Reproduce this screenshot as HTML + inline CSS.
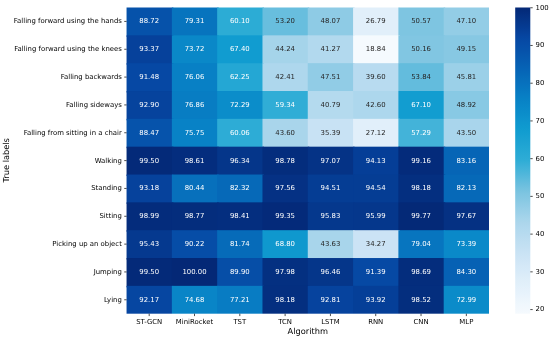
<!DOCTYPE html>
<html><head><meta charset="utf-8"><title>Heatmap</title>
<style>
html,body{margin:0;padding:0;background:#fff;}
body{width:550px;height:339px;overflow:hidden;}
svg{display:block;}
text{text-rendering:geometricPrecision;font-family:"DejaVu Sans","Liberation Sans",sans-serif;}
.t{font-size:6.9px;fill:#000;}
.a{font-size:6.9px;}
.l{font-size:8.25px;fill:#000;}
</style></head><body>
<svg width="550" height="339" viewBox="0 0 550 339">
<rect width="550" height="339" fill="#fff"/>

<rect x="126.55" y="7.50" width="46.81" height="29.34" fill="rgb(6,82,170)"/>
<rect x="171.86" y="7.50" width="46.81" height="29.34" fill="rgb(7,116,190)"/>
<rect x="217.16" y="7.50" width="46.81" height="29.34" fill="rgb(44,172,213)"/>
<rect x="262.47" y="7.50" width="46.81" height="29.34" fill="rgb(104,190,222)"/>
<rect x="307.77" y="7.50" width="46.81" height="29.34" fill="rgb(142,203,229)"/>
<rect x="353.08" y="7.50" width="46.81" height="29.34" fill="rgb(225,239,250)"/>
<rect x="398.39" y="7.50" width="46.81" height="29.34" fill="rgb(126,197,225)"/>
<rect x="443.69" y="7.50" width="46.81" height="29.34" fill="rgb(147,205,230)"/>
<rect x="126.55" y="35.34" width="46.81" height="29.34" fill="rgb(6,65,155)"/>
<rect x="171.86" y="35.34" width="46.81" height="29.34" fill="rgb(10,136,200)"/>
<rect x="217.16" y="35.34" width="46.81" height="29.34" fill="rgb(17,156,208)"/>
<rect x="262.47" y="35.34" width="46.81" height="29.34" fill="rgb(165,212,234)"/>
<rect x="307.77" y="35.34" width="46.81" height="29.34" fill="rgb(178,217,238)"/>
<rect x="353.08" y="35.34" width="46.81" height="29.34" fill="rgb(245,250,254)"/>
<rect x="398.39" y="35.34" width="46.81" height="29.34" fill="rgb(129,198,226)"/>
<rect x="443.69" y="35.34" width="46.81" height="29.34" fill="rgb(135,200,227)"/>
<rect x="126.55" y="63.17" width="46.81" height="29.34" fill="rgb(6,72,164)"/>
<rect x="171.86" y="63.17" width="46.81" height="29.34" fill="rgb(8,128,197)"/>
<rect x="217.16" y="63.17" width="46.81" height="29.34" fill="rgb(36,167,212)"/>
<rect x="262.47" y="63.17" width="46.81" height="29.34" fill="rgb(174,215,237)"/>
<rect x="307.77" y="63.17" width="46.81" height="29.34" fill="rgb(145,204,230)"/>
<rect x="353.08" y="63.17" width="46.81" height="29.34" fill="rgb(184,219,240)"/>
<rect x="398.39" y="63.17" width="46.81" height="29.34" fill="rgb(99,188,221)"/>
<rect x="443.69" y="63.17" width="46.81" height="29.34" fill="rgb(155,208,232)"/>
<rect x="126.55" y="91.01" width="46.81" height="29.34" fill="rgb(6,67,157)"/>
<rect x="171.86" y="91.01" width="46.81" height="29.34" fill="rgb(8,125,195)"/>
<rect x="217.16" y="91.01" width="46.81" height="29.34" fill="rgb(11,141,202)"/>
<rect x="262.47" y="91.01" width="46.81" height="29.34" fill="rgb(48,173,214)"/>
<rect x="307.77" y="91.01" width="46.81" height="29.34" fill="rgb(180,218,238)"/>
<rect x="353.08" y="91.01" width="46.81" height="29.34" fill="rgb(173,215,237)"/>
<rect x="398.39" y="91.01" width="46.81" height="29.34" fill="rgb(18,157,208)"/>
<rect x="443.69" y="91.01" width="46.81" height="29.34" fill="rgb(136,201,228)"/>
<rect x="126.55" y="118.85" width="46.81" height="29.34" fill="rgb(6,83,171)"/>
<rect x="171.86" y="118.85" width="46.81" height="29.34" fill="rgb(8,130,198)"/>
<rect x="217.16" y="118.85" width="46.81" height="29.34" fill="rgb(45,172,214)"/>
<rect x="262.47" y="118.85" width="46.81" height="29.34" fill="rgb(169,213,235)"/>
<rect x="307.77" y="118.85" width="46.81" height="29.34" fill="rgb(200,226,244)"/>
<rect x="353.08" y="118.85" width="46.81" height="29.34" fill="rgb(225,239,250)"/>
<rect x="398.39" y="118.85" width="46.81" height="29.34" fill="rgb(67,179,217)"/>
<rect x="443.69" y="118.85" width="46.81" height="29.34" fill="rgb(169,213,236)"/>
<rect x="126.55" y="146.68" width="46.81" height="29.34" fill="rgb(4,42,121)"/>
<rect x="171.86" y="146.68" width="46.81" height="29.34" fill="rgb(4,45,126)"/>
<rect x="217.16" y="146.68" width="46.81" height="29.34" fill="rgb(5,54,138)"/>
<rect x="262.47" y="146.68" width="46.81" height="29.34" fill="rgb(4,45,125)"/>
<rect x="307.77" y="146.68" width="46.81" height="29.34" fill="rgb(5,51,134)"/>
<rect x="353.08" y="146.68" width="46.81" height="29.34" fill="rgb(5,62,151)"/>
<rect x="398.39" y="146.68" width="46.81" height="29.34" fill="rgb(4,43,123)"/>
<rect x="443.69" y="146.68" width="46.81" height="29.34" fill="rgb(6,101,182)"/>
<rect x="126.55" y="174.52" width="46.81" height="29.34" fill="rgb(6,66,156)"/>
<rect x="171.86" y="174.52" width="46.81" height="29.34" fill="rgb(7,112,188)"/>
<rect x="217.16" y="174.52" width="46.81" height="29.34" fill="rgb(6,105,184)"/>
<rect x="262.47" y="174.52" width="46.81" height="29.34" fill="rgb(5,49,132)"/>
<rect x="307.77" y="174.52" width="46.81" height="29.34" fill="rgb(5,61,148)"/>
<rect x="353.08" y="174.52" width="46.81" height="29.34" fill="rgb(5,61,148)"/>
<rect x="398.39" y="174.52" width="46.81" height="29.34" fill="rgb(4,47,128)"/>
<rect x="443.69" y="174.52" width="46.81" height="29.34" fill="rgb(6,105,184)"/>
<rect x="126.55" y="202.35" width="46.81" height="29.34" fill="rgb(4,44,124)"/>
<rect x="171.86" y="202.35" width="46.81" height="29.34" fill="rgb(4,45,125)"/>
<rect x="217.16" y="202.35" width="46.81" height="29.34" fill="rgb(4,46,127)"/>
<rect x="262.47" y="202.35" width="46.81" height="29.34" fill="rgb(4,42,122)"/>
<rect x="307.77" y="202.35" width="46.81" height="29.34" fill="rgb(5,56,141)"/>
<rect x="353.08" y="202.35" width="46.81" height="29.34" fill="rgb(5,55,140)"/>
<rect x="398.39" y="202.35" width="46.81" height="29.34" fill="rgb(4,41,119)"/>
<rect x="443.69" y="202.35" width="46.81" height="29.34" fill="rgb(5,49,131)"/>
<rect x="126.55" y="230.19" width="46.81" height="29.34" fill="rgb(5,57,143)"/>
<rect x="171.86" y="230.19" width="46.81" height="29.34" fill="rgb(6,77,167)"/>
<rect x="217.16" y="230.19" width="46.81" height="29.34" fill="rgb(6,107,185)"/>
<rect x="262.47" y="230.19" width="46.81" height="29.34" fill="rgb(15,152,206)"/>
<rect x="307.77" y="230.19" width="46.81" height="29.34" fill="rgb(168,213,235)"/>
<rect x="353.08" y="230.19" width="46.81" height="29.34" fill="rgb(203,227,245)"/>
<rect x="398.39" y="230.19" width="46.81" height="29.34" fill="rgb(7,117,191)"/>
<rect x="443.69" y="230.19" width="46.81" height="29.34" fill="rgb(10,137,201)"/>
<rect x="126.55" y="258.03" width="46.81" height="29.34" fill="rgb(4,42,121)"/>
<rect x="171.86" y="258.03" width="46.81" height="29.34" fill="rgb(4,40,118)"/>
<rect x="217.16" y="258.03" width="46.81" height="29.34" fill="rgb(6,78,167)"/>
<rect x="262.47" y="258.03" width="46.81" height="29.34" fill="rgb(4,48,129)"/>
<rect x="307.77" y="258.03" width="46.81" height="29.34" fill="rgb(5,54,138)"/>
<rect x="353.08" y="258.03" width="46.81" height="29.34" fill="rgb(6,73,164)"/>
<rect x="398.39" y="258.03" width="46.81" height="29.34" fill="rgb(4,45,125)"/>
<rect x="443.69" y="258.03" width="46.81" height="29.34" fill="rgb(6,97,180)"/>
<rect x="126.55" y="285.86" width="46.81" height="29.34" fill="rgb(6,70,161)"/>
<rect x="171.86" y="285.86" width="46.81" height="29.34" fill="rgb(9,133,199)"/>
<rect x="217.16" y="285.86" width="46.81" height="29.34" fill="rgb(8,124,195)"/>
<rect x="262.47" y="285.86" width="46.81" height="29.34" fill="rgb(4,47,128)"/>
<rect x="307.77" y="285.86" width="46.81" height="29.34" fill="rgb(6,67,158)"/>
<rect x="353.08" y="285.86" width="46.81" height="29.34" fill="rgb(5,63,152)"/>
<rect x="398.39" y="285.86" width="46.81" height="29.34" fill="rgb(4,46,126)"/>
<rect x="443.69" y="285.86" width="46.81" height="29.34" fill="rgb(11,139,201)"/>
<rect x="489.00" y="0" width="8" height="339" fill="#fff"/>
<rect x="0" y="313.70" width="497.0" height="8" fill="#fff"/>
<text class="a" x="149.20" y="23.32" text-anchor="middle" fill="#fff">88.72</text>
<text class="a" x="194.51" y="23.32" text-anchor="middle" fill="#fff">79.31</text>
<text class="a" x="239.82" y="23.32" text-anchor="middle" fill="#fff">60.10</text>
<text class="a" x="285.12" y="23.32" text-anchor="middle" fill="#262626">53.20</text>
<text class="a" x="330.43" y="23.32" text-anchor="middle" fill="#262626">48.07</text>
<text class="a" x="375.73" y="23.32" text-anchor="middle" fill="#262626">26.79</text>
<text class="a" x="421.04" y="23.32" text-anchor="middle" fill="#262626">50.57</text>
<text class="a" x="466.35" y="23.32" text-anchor="middle" fill="#262626">47.10</text>
<text class="a" x="149.20" y="51.15" text-anchor="middle" fill="#fff">93.37</text>
<text class="a" x="194.51" y="51.15" text-anchor="middle" fill="#fff">73.72</text>
<text class="a" x="239.82" y="51.15" text-anchor="middle" fill="#fff">67.40</text>
<text class="a" x="285.12" y="51.15" text-anchor="middle" fill="#262626">44.24</text>
<text class="a" x="330.43" y="51.15" text-anchor="middle" fill="#262626">41.27</text>
<text class="a" x="375.73" y="51.15" text-anchor="middle" fill="#262626">18.84</text>
<text class="a" x="421.04" y="51.15" text-anchor="middle" fill="#262626">50.16</text>
<text class="a" x="466.35" y="51.15" text-anchor="middle" fill="#262626">49.15</text>
<text class="a" x="149.20" y="78.99" text-anchor="middle" fill="#fff">91.48</text>
<text class="a" x="194.51" y="78.99" text-anchor="middle" fill="#fff">76.06</text>
<text class="a" x="239.82" y="78.99" text-anchor="middle" fill="#fff">62.25</text>
<text class="a" x="285.12" y="78.99" text-anchor="middle" fill="#262626">42.41</text>
<text class="a" x="330.43" y="78.99" text-anchor="middle" fill="#262626">47.51</text>
<text class="a" x="375.73" y="78.99" text-anchor="middle" fill="#262626">39.60</text>
<text class="a" x="421.04" y="78.99" text-anchor="middle" fill="#262626">53.84</text>
<text class="a" x="466.35" y="78.99" text-anchor="middle" fill="#262626">45.81</text>
<text class="a" x="149.20" y="106.83" text-anchor="middle" fill="#fff">92.90</text>
<text class="a" x="194.51" y="106.83" text-anchor="middle" fill="#fff">76.86</text>
<text class="a" x="239.82" y="106.83" text-anchor="middle" fill="#fff">72.29</text>
<text class="a" x="285.12" y="106.83" text-anchor="middle" fill="#fff">59.34</text>
<text class="a" x="330.43" y="106.83" text-anchor="middle" fill="#262626">40.79</text>
<text class="a" x="375.73" y="106.83" text-anchor="middle" fill="#262626">42.60</text>
<text class="a" x="421.04" y="106.83" text-anchor="middle" fill="#fff">67.10</text>
<text class="a" x="466.35" y="106.83" text-anchor="middle" fill="#262626">48.92</text>
<text class="a" x="149.20" y="134.66" text-anchor="middle" fill="#fff">88.47</text>
<text class="a" x="194.51" y="134.66" text-anchor="middle" fill="#fff">75.75</text>
<text class="a" x="239.82" y="134.66" text-anchor="middle" fill="#fff">60.06</text>
<text class="a" x="285.12" y="134.66" text-anchor="middle" fill="#262626">43.60</text>
<text class="a" x="330.43" y="134.66" text-anchor="middle" fill="#262626">35.39</text>
<text class="a" x="375.73" y="134.66" text-anchor="middle" fill="#262626">27.12</text>
<text class="a" x="421.04" y="134.66" text-anchor="middle" fill="#fff">57.29</text>
<text class="a" x="466.35" y="134.66" text-anchor="middle" fill="#262626">43.50</text>
<text class="a" x="149.20" y="162.50" text-anchor="middle" fill="#fff">99.50</text>
<text class="a" x="194.51" y="162.50" text-anchor="middle" fill="#fff">98.61</text>
<text class="a" x="239.82" y="162.50" text-anchor="middle" fill="#fff">96.34</text>
<text class="a" x="285.12" y="162.50" text-anchor="middle" fill="#fff">98.78</text>
<text class="a" x="330.43" y="162.50" text-anchor="middle" fill="#fff">97.07</text>
<text class="a" x="375.73" y="162.50" text-anchor="middle" fill="#fff">94.13</text>
<text class="a" x="421.04" y="162.50" text-anchor="middle" fill="#fff">99.16</text>
<text class="a" x="466.35" y="162.50" text-anchor="middle" fill="#fff">83.16</text>
<text class="a" x="149.20" y="190.34" text-anchor="middle" fill="#fff">93.18</text>
<text class="a" x="194.51" y="190.34" text-anchor="middle" fill="#fff">80.44</text>
<text class="a" x="239.82" y="190.34" text-anchor="middle" fill="#fff">82.32</text>
<text class="a" x="285.12" y="190.34" text-anchor="middle" fill="#fff">97.56</text>
<text class="a" x="330.43" y="190.34" text-anchor="middle" fill="#fff">94.51</text>
<text class="a" x="375.73" y="190.34" text-anchor="middle" fill="#fff">94.54</text>
<text class="a" x="421.04" y="190.34" text-anchor="middle" fill="#fff">98.18</text>
<text class="a" x="466.35" y="190.34" text-anchor="middle" fill="#fff">82.13</text>
<text class="a" x="149.20" y="218.17" text-anchor="middle" fill="#fff">98.99</text>
<text class="a" x="194.51" y="218.17" text-anchor="middle" fill="#fff">98.77</text>
<text class="a" x="239.82" y="218.17" text-anchor="middle" fill="#fff">98.41</text>
<text class="a" x="285.12" y="218.17" text-anchor="middle" fill="#fff">99.35</text>
<text class="a" x="330.43" y="218.17" text-anchor="middle" fill="#fff">95.83</text>
<text class="a" x="375.73" y="218.17" text-anchor="middle" fill="#fff">95.99</text>
<text class="a" x="421.04" y="218.17" text-anchor="middle" fill="#fff">99.77</text>
<text class="a" x="466.35" y="218.17" text-anchor="middle" fill="#fff">97.67</text>
<text class="a" x="149.20" y="246.01" text-anchor="middle" fill="#fff">95.43</text>
<text class="a" x="194.51" y="246.01" text-anchor="middle" fill="#fff">90.22</text>
<text class="a" x="239.82" y="246.01" text-anchor="middle" fill="#fff">81.74</text>
<text class="a" x="285.12" y="246.01" text-anchor="middle" fill="#fff">68.80</text>
<text class="a" x="330.43" y="246.01" text-anchor="middle" fill="#262626">43.63</text>
<text class="a" x="375.73" y="246.01" text-anchor="middle" fill="#262626">34.27</text>
<text class="a" x="421.04" y="246.01" text-anchor="middle" fill="#fff">79.04</text>
<text class="a" x="466.35" y="246.01" text-anchor="middle" fill="#fff">73.39</text>
<text class="a" x="149.20" y="273.85" text-anchor="middle" fill="#fff">99.50</text>
<text class="a" x="194.51" y="273.85" text-anchor="middle" fill="#fff">100.00</text>
<text class="a" x="239.82" y="273.85" text-anchor="middle" fill="#fff">89.90</text>
<text class="a" x="285.12" y="273.85" text-anchor="middle" fill="#fff">97.98</text>
<text class="a" x="330.43" y="273.85" text-anchor="middle" fill="#fff">96.46</text>
<text class="a" x="375.73" y="273.85" text-anchor="middle" fill="#fff">91.39</text>
<text class="a" x="421.04" y="273.85" text-anchor="middle" fill="#fff">98.69</text>
<text class="a" x="466.35" y="273.85" text-anchor="middle" fill="#fff">84.30</text>
<text class="a" x="149.20" y="301.68" text-anchor="middle" fill="#fff">92.17</text>
<text class="a" x="194.51" y="301.68" text-anchor="middle" fill="#fff">74.68</text>
<text class="a" x="239.82" y="301.68" text-anchor="middle" fill="#fff">77.21</text>
<text class="a" x="285.12" y="301.68" text-anchor="middle" fill="#fff">98.18</text>
<text class="a" x="330.43" y="301.68" text-anchor="middle" fill="#fff">92.81</text>
<text class="a" x="375.73" y="301.68" text-anchor="middle" fill="#fff">93.92</text>
<text class="a" x="421.04" y="301.68" text-anchor="middle" fill="#fff">98.52</text>
<text class="a" x="466.35" y="301.68" text-anchor="middle" fill="#fff">72.99</text>
<line x1="124.25" y1="21.42" x2="126.55" y2="21.42" stroke="#000" stroke-width="0.7"/>
<text class="t" x="121.85" y="23.32" text-anchor="end">Falling forward using the hands</text>
<line x1="124.25" y1="49.25" x2="126.55" y2="49.25" stroke="#000" stroke-width="0.7"/>
<text class="t" x="121.85" y="51.15" text-anchor="end">Falling forward using the knees</text>
<line x1="124.25" y1="77.09" x2="126.55" y2="77.09" stroke="#000" stroke-width="0.7"/>
<text class="t" x="121.85" y="78.99" text-anchor="end">Falling backwards</text>
<line x1="124.25" y1="104.93" x2="126.55" y2="104.93" stroke="#000" stroke-width="0.7"/>
<text class="t" x="121.85" y="106.83" text-anchor="end">Falling sideways</text>
<line x1="124.25" y1="132.76" x2="126.55" y2="132.76" stroke="#000" stroke-width="0.7"/>
<text class="t" x="121.85" y="134.66" text-anchor="end">Falling from sitting in a chair</text>
<line x1="124.25" y1="160.60" x2="126.55" y2="160.60" stroke="#000" stroke-width="0.7"/>
<text class="t" x="121.85" y="162.50" text-anchor="end">Walking</text>
<line x1="124.25" y1="188.44" x2="126.55" y2="188.44" stroke="#000" stroke-width="0.7"/>
<text class="t" x="121.85" y="190.34" text-anchor="end">Standing</text>
<line x1="124.25" y1="216.27" x2="126.55" y2="216.27" stroke="#000" stroke-width="0.7"/>
<text class="t" x="121.85" y="218.17" text-anchor="end">Sitting</text>
<line x1="124.25" y1="244.11" x2="126.55" y2="244.11" stroke="#000" stroke-width="0.7"/>
<text class="t" x="121.85" y="246.01" text-anchor="end">Picking up an object</text>
<line x1="124.25" y1="271.95" x2="126.55" y2="271.95" stroke="#000" stroke-width="0.7"/>
<text class="t" x="121.85" y="273.85" text-anchor="end">Jumping</text>
<line x1="124.25" y1="299.78" x2="126.55" y2="299.78" stroke="#000" stroke-width="0.7"/>
<text class="t" x="121.85" y="301.68" text-anchor="end">Lying</text>
<line x1="149.20" y1="313.70" x2="149.20" y2="316.10" stroke="#000" stroke-width="0.7"/>
<text class="t" x="149.20" y="324.0" text-anchor="middle">ST-GCN</text>
<line x1="194.51" y1="313.70" x2="194.51" y2="316.10" stroke="#000" stroke-width="0.7"/>
<text class="t" x="194.51" y="324.0" text-anchor="middle">MiniRocket</text>
<line x1="239.82" y1="313.70" x2="239.82" y2="316.10" stroke="#000" stroke-width="0.7"/>
<text class="t" x="239.82" y="324.0" text-anchor="middle">TST</text>
<line x1="285.12" y1="313.70" x2="285.12" y2="316.10" stroke="#000" stroke-width="0.7"/>
<text class="t" x="285.12" y="324.0" text-anchor="middle">TCN</text>
<line x1="330.43" y1="313.70" x2="330.43" y2="316.10" stroke="#000" stroke-width="0.7"/>
<text class="t" x="330.43" y="324.0" text-anchor="middle">LSTM</text>
<line x1="375.73" y1="313.70" x2="375.73" y2="316.10" stroke="#000" stroke-width="0.7"/>
<text class="t" x="375.73" y="324.0" text-anchor="middle">RNN</text>
<line x1="421.04" y1="313.70" x2="421.04" y2="316.10" stroke="#000" stroke-width="0.7"/>
<text class="t" x="421.04" y="324.0" text-anchor="middle">CNN</text>
<line x1="466.35" y1="313.70" x2="466.35" y2="316.10" stroke="#000" stroke-width="0.7"/>
<text class="t" x="466.35" y="324.0" text-anchor="middle">MLP</text>
<text class="l" x="307.77" y="334.4" text-anchor="middle">Algorithm</text>
<text class="l" transform="translate(9.45,160.30) rotate(-90)" text-anchor="middle">True labels</text>
<defs><linearGradient id="cb" x1="0" y1="1" x2="0" y2="0">
<stop offset="0.0000" stop-color="rgb(245,250,254)"/>
<stop offset="0.0156" stop-color="rgb(242,248,253)"/>
<stop offset="0.0312" stop-color="rgb(239,247,253)"/>
<stop offset="0.0469" stop-color="rgb(236,245,252)"/>
<stop offset="0.0625" stop-color="rgb(232,243,252)"/>
<stop offset="0.0781" stop-color="rgb(229,241,251)"/>
<stop offset="0.0938" stop-color="rgb(226,240,250)"/>
<stop offset="0.1094" stop-color="rgb(223,238,249)"/>
<stop offset="0.1250" stop-color="rgb(219,236,248)"/>
<stop offset="0.1406" stop-color="rgb(215,234,248)"/>
<stop offset="0.1562" stop-color="rgb(212,232,247)"/>
<stop offset="0.1719" stop-color="rgb(208,230,246)"/>
<stop offset="0.1875" stop-color="rgb(204,228,245)"/>
<stop offset="0.2031" stop-color="rgb(200,226,244)"/>
<stop offset="0.2188" stop-color="rgb(195,224,242)"/>
<stop offset="0.2344" stop-color="rgb(191,222,241)"/>
<stop offset="0.2500" stop-color="rgb(186,220,240)"/>
<stop offset="0.2656" stop-color="rgb(181,218,239)"/>
<stop offset="0.2812" stop-color="rgb(177,216,238)"/>
<stop offset="0.2969" stop-color="rgb(172,214,236)"/>
<stop offset="0.3125" stop-color="rgb(165,212,234)"/>
<stop offset="0.3281" stop-color="rgb(157,209,233)"/>
<stop offset="0.3438" stop-color="rgb(150,206,231)"/>
<stop offset="0.3594" stop-color="rgb(142,203,229)"/>
<stop offset="0.3750" stop-color="rgb(134,200,227)"/>
<stop offset="0.3906" stop-color="rgb(127,197,225)"/>
<stop offset="0.4062" stop-color="rgb(117,194,223)"/>
<stop offset="0.4219" stop-color="rgb(106,190,222)"/>
<stop offset="0.4375" stop-color="rgb(94,187,220)"/>
<stop offset="0.4531" stop-color="rgb(82,183,219)"/>
<stop offset="0.4688" stop-color="rgb(70,180,217)"/>
<stop offset="0.4844" stop-color="rgb(59,176,216)"/>
<stop offset="0.5000" stop-color="rgb(47,173,214)"/>
<stop offset="0.5156" stop-color="rgb(42,170,213)"/>
<stop offset="0.5312" stop-color="rgb(37,168,212)"/>
<stop offset="0.5469" stop-color="rgb(32,165,211)"/>
<stop offset="0.5625" stop-color="rgb(28,162,210)"/>
<stop offset="0.5781" stop-color="rgb(23,160,209)"/>
<stop offset="0.5938" stop-color="rgb(18,157,208)"/>
<stop offset="0.6094" stop-color="rgb(15,154,207)"/>
<stop offset="0.6250" stop-color="rgb(14,150,206)"/>
<stop offset="0.6406" stop-color="rgb(13,145,204)"/>
<stop offset="0.6562" stop-color="rgb(11,141,202)"/>
<stop offset="0.6719" stop-color="rgb(10,137,201)"/>
<stop offset="0.6875" stop-color="rgb(9,133,199)"/>
<stop offset="0.7031" stop-color="rgb(8,129,197)"/>
<stop offset="0.7188" stop-color="rgb(8,124,195)"/>
<stop offset="0.7344" stop-color="rgb(7,119,192)"/>
<stop offset="0.7500" stop-color="rgb(7,114,190)"/>
<stop offset="0.7656" stop-color="rgb(7,110,187)"/>
<stop offset="0.7812" stop-color="rgb(6,105,184)"/>
<stop offset="0.7969" stop-color="rgb(6,100,182)"/>
<stop offset="0.8125" stop-color="rgb(6,96,179)"/>
<stop offset="0.8281" stop-color="rgb(6,91,176)"/>
<stop offset="0.8438" stop-color="rgb(6,87,173)"/>
<stop offset="0.8594" stop-color="rgb(6,82,170)"/>
<stop offset="0.8750" stop-color="rgb(6,78,168)"/>
<stop offset="0.8906" stop-color="rgb(6,74,165)"/>
<stop offset="0.9062" stop-color="rgb(6,69,160)"/>
<stop offset="0.9219" stop-color="rgb(6,64,153)"/>
<stop offset="0.9375" stop-color="rgb(5,59,146)"/>
<stop offset="0.9531" stop-color="rgb(5,55,139)"/>
<stop offset="0.9688" stop-color="rgb(5,50,132)"/>
<stop offset="0.9844" stop-color="rgb(4,45,125)"/>
<stop offset="1.0000" stop-color="rgb(4,40,118)"/>
</linearGradient></defs>
<rect x="515.2" y="7.5" width="15.10" height="306.20" fill="url(#cb)"/>
<line x1="530.30" y1="309.57" x2="532.70" y2="309.57" stroke="#000" stroke-width="0.7"/>
<text class="t" x="535.50" y="311.47">20</text>
<line x1="530.30" y1="271.85" x2="532.70" y2="271.85" stroke="#000" stroke-width="0.7"/>
<text class="t" x="535.50" y="273.75">30</text>
<line x1="530.30" y1="234.12" x2="532.70" y2="234.12" stroke="#000" stroke-width="0.7"/>
<text class="t" x="535.50" y="236.02">40</text>
<line x1="530.30" y1="196.39" x2="532.70" y2="196.39" stroke="#000" stroke-width="0.7"/>
<text class="t" x="535.50" y="198.29">50</text>
<line x1="530.30" y1="158.66" x2="532.70" y2="158.66" stroke="#000" stroke-width="0.7"/>
<text class="t" x="535.50" y="160.56">60</text>
<line x1="530.30" y1="120.93" x2="532.70" y2="120.93" stroke="#000" stroke-width="0.7"/>
<text class="t" x="535.50" y="122.83">70</text>
<line x1="530.30" y1="83.21" x2="532.70" y2="83.21" stroke="#000" stroke-width="0.7"/>
<text class="t" x="535.50" y="85.11">80</text>
<line x1="530.30" y1="45.48" x2="532.70" y2="45.48" stroke="#000" stroke-width="0.7"/>
<text class="t" x="535.50" y="47.38">90</text>
<line x1="530.30" y1="7.75" x2="532.70" y2="7.75" stroke="#000" stroke-width="0.7"/>
<text class="t" x="535.50" y="9.65">100</text>
</svg></body></html>
